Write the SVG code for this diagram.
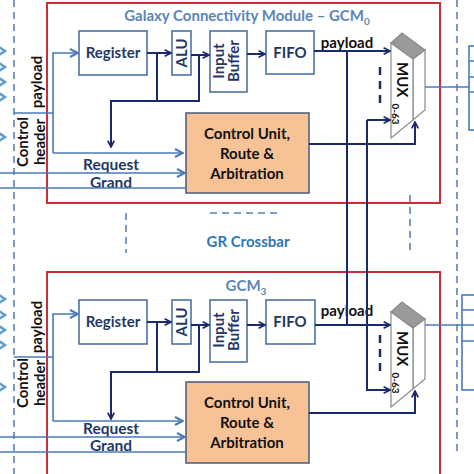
<svg xmlns="http://www.w3.org/2000/svg" width="474" height="474" viewBox="0 0 474 474">
<defs>
<style>
.red{fill:none;stroke:#c5303a;stroke-width:2}
.blk{fill:#fff;stroke:#41699c;stroke-width:1.5}
.cu{fill:#f8c297;stroke:#4a5a7a;stroke-width:1.5}
.bt{font-family:Lato,"Open Sans",sans-serif;font-weight:bold;font-size:15px;fill:#1f3864}
.rq{font-family:Lato,"Open Sans",sans-serif;font-weight:bold;font-size:15.5px;fill:#1f3864}
.kt{font-family:Lato,"Open Sans",sans-serif;font-weight:bold;font-size:15px;fill:#111}
.tt{font-family:Lato,"Open Sans",sans-serif;font-weight:bold;font-size:15px;fill:#5b86b8}
.nv{fill:none;stroke:#1a2a6c;stroke-width:2}
.sb{fill:none;stroke:#4a7ab8;stroke-width:1.6}
.dash{fill:none;stroke:#5a82b4;stroke-width:1.6;stroke-dasharray:7,5}
.ndash{fill:none;stroke:#1a2a6c;stroke-width:2.5;stroke-dasharray:8,6}
.chev{fill:none;stroke:#5b9bd5;stroke-width:2.5}
.mux{stroke:#8a8a8a;stroke-width:1.2}
</style>
<marker id="an" viewBox="0 0 10 10" refX="9" refY="5" markerWidth="8" markerHeight="8" orient="auto" markerUnits="userSpaceOnUse">
<path d="M1,1 L9,5 L1,9" fill="none" stroke="#1a2a6c" stroke-width="2.2"/>
</marker>
<marker id="ab" viewBox="0 0 10 10" refX="9" refY="5" markerWidth="10" markerHeight="10" orient="auto" markerUnits="userSpaceOnUse">
<path d="M1,1 L9,5 L1,9" fill="none" stroke="#4a7ab8" stroke-width="2"/>
</marker>
</defs>
<rect width="474" height="474" fill="#fff"/>

<g id="guides">
<path class="dash" d="M14,0 V474"/>
<path class="dash" d="M457,0 V453"/>
<path class="dash" d="M210,213 H278"/>
<path class="dash" d="M126,213 V253"/>
<path class="dash" d="M410,195 V254"/>
<path class="chev" d="M-1,47 L5,51 L-1,55 M-1,63 L5,67 L-1,71 M-1,78 L5,82 L-1,86 M-1,93 L5,97 L-1,101 M-1,133 L5,137 L-1,141"/>
<path class="chev" d="M-1,295 L5,299 L-1,303 M-1,311 L5,315 L-1,319 M-1,326 L5,330 L-1,334 M-1,341 L5,345 L-1,349 M-1,383 L5,387 L-1,391"/>
</g>

<g id="gcm0">
<rect class="red" x="47" y="3" width="393" height="200"/>
<text class="tt" x="247" y="21" text-anchor="middle">Galaxy Connectivity Module – GCM<tspan font-size="10" dy="4">0</tspan></text>
</g>
<g id="gcm3">
<rect class="red" x="47" y="272" width="393" height="210"/>
<text class="tt" x="246" y="291" text-anchor="middle">GCM<tspan font-size="10" dy="4">3</tspan></text>
</g>
<g id="crossbar">
<text x="248" y="247" text-anchor="middle" style="font-family:Lato,'Open Sans',sans-serif;font-weight:bold;font-size:15px;fill:#2e75b6">GR Crossbar</text>
</g>

<g id="register0"><rect class="blk" x="79" y="31" width="68" height="44"/><text class="bt" x="113" y="58" text-anchor="middle">Register</text></g>
<g id="alu0"><rect class="blk" x="172" y="31" width="19" height="44"/><text class="bt" transform="translate(187,53) rotate(-90)" text-anchor="middle">ALU</text></g>
<g id="inbuf0"><rect class="blk" x="210" y="31" width="37" height="61"/><text class="bt" transform="translate(224,61) rotate(-90)" text-anchor="middle">Input</text><text class="bt" transform="translate(239,61) rotate(-90)" text-anchor="middle">Buffer</text></g>
<g id="fifo0"><rect class="blk" x="266" y="31" width="48" height="43"/><text class="bt" x="290" y="58" text-anchor="middle">FIFO</text></g>
<g id="cu0"><rect class="cu" x="186" y="113" width="123" height="80"/><text class="kt" x="247" y="139" text-anchor="middle">Control Unit,</text><text class="kt" x="247" y="159" text-anchor="middle">Route &amp;</text><text class="kt" x="247" y="179" text-anchor="middle">Arbitration</text></g>
<g id="mux0">
<path class="mux" fill="#9a9a9a" d="M391,43 L402,33 L425,50 L413,59 Z"/>
<path class="mux" fill="#fff" d="M413,59 L425,50 L425,110 L413,120 Z"/>
<path class="mux" fill="#fff" d="M391,43 L413,59 L413,120 L391,138 Z"/>
<text class="kt" transform="translate(397,62) rotate(90)">MUX<tspan font-size="10" dx="6" dy="5">0-63</tspan></text>
</g>
<g id="rbox0" class="sb"><rect x="469" y="46" width="12" height="84"/><path d="M469,61 H474 M469,77 H474 M469,92 H474"/></g>

<g id="register3"><rect class="blk" x="79" y="300" width="68" height="44"/><text class="bt" x="113" y="327" text-anchor="middle">Register</text></g>
<g id="alu3"><rect class="blk" x="172" y="300" width="19" height="44"/><text class="bt" transform="translate(187,322) rotate(-90)" text-anchor="middle">ALU</text></g>
<g id="inbuf3"><rect class="blk" x="210" y="300" width="37" height="62"/><text class="bt" transform="translate(224,330) rotate(-90)" text-anchor="middle">Input</text><text class="bt" transform="translate(239,330) rotate(-90)" text-anchor="middle">Buffer</text></g>
<g id="fifo3"><rect class="blk" x="266" y="300" width="49" height="44"/><text class="bt" x="290" y="327" text-anchor="middle">FIFO</text></g>
<g id="cu3"><rect class="cu" x="186" y="382" width="123" height="81"/><text class="kt" x="247" y="408" text-anchor="middle">Control Unit,</text><text class="kt" x="247" y="428" text-anchor="middle">Route &amp;</text><text class="kt" x="247" y="448" text-anchor="middle">Arbitration</text></g>
<g id="mux3">
<path class="mux" fill="#9a9a9a" d="M391,312 L402,302 L425,319 L413,328 Z"/>
<path class="mux" fill="#fff" d="M413,328 L425,319 L425,379 L413,389 Z"/>
<path class="mux" fill="#fff" d="M391,312 L413,328 L413,389 L391,407 Z"/>
<text class="kt" transform="translate(397,331) rotate(90)">MUX<tspan font-size="10" dx="6" dy="5">0-63</tspan></text>
</g>
<g id="rbox3" class="sb"><rect x="462" y="295" width="16" height="95"/><path d="M462,310 H474 M462,341 H474"/></g>

<g id="labels">
<text class="kt" transform="translate(42,82) rotate(-90)" text-anchor="middle">payload</text>
<text class="kt" transform="translate(28,142) rotate(-90)" text-anchor="middle">Control</text>
<text class="kt" transform="translate(45,142) rotate(-90)" text-anchor="middle">header</text>
<text class="rq" x="111" y="170" text-anchor="middle">Request</text>
<text class="rq" x="111" y="188" text-anchor="middle">Grand</text>
<text class="kt" x="347" y="48" text-anchor="middle">payload</text>
<text class="kt" transform="translate(42,327) rotate(-90)" text-anchor="middle">payload</text>
<text class="kt" transform="translate(28,383) rotate(-90)" text-anchor="middle">Control</text>
<text class="kt" transform="translate(45,383) rotate(-90)" text-anchor="middle">header</text>
<text class="rq" x="111" y="434" text-anchor="middle">Request</text>
<text class="rq" x="111" y="451" text-anchor="middle">Grand</text>
<text class="kt" x="347" y="316" text-anchor="middle">payload</text>
</g>

<g id="connectors">
<path class="nv" d="M147,53 H171" marker-end="url(#an)"/>
<path class="nv" d="M157,53 V101"/>
<path class="nv" d="M191,55 H209" marker-end="url(#an)"/>
<path class="nv" d="M199,55 V101 H111 V147" marker-end="url(#an)"/>
<path class="nv" d="M247,54 H265" marker-end="url(#an)"/>
<path class="nv" d="M314,51 H390" marker-end="url(#an)"/>
<path class="nv" d="M347,51 V325"/>
<path class="nv" d="M367,120 H390" marker-end="url(#an)"/>
<path class="nv" d="M367,120 V390 H390" marker-end="url(#an)"/>
<path class="nv" d="M309,144 H415 V122" marker-end="url(#an)"/>
<path class="ndash" d="M380,67 V103"/>
<path class="sb" d="M14,113 H53"/>
<path class="sb" d="M53,153 V53 H78" marker-end="url(#ab)"/>
<path class="sb" d="M53,153 H183" marker-end="url(#ab)"/>
<path class="sb" d="M0,173 H185" marker-end="url(#ab)"/>
<path class="sb" d="M0,188 H186"/>
<path class="sb" d="M425,87 H469"/>
<path class="nv" d="M147,322 H171" marker-end="url(#an)"/>
<path class="nv" d="M157,322 V372"/>
<path class="nv" d="M191,325 H209" marker-end="url(#an)"/>
<path class="nv" d="M199,325 V372 H111 V419" marker-end="url(#an)"/>
<path class="nv" d="M247,325 H265" marker-end="url(#an)"/>
<path class="nv" d="M315,325 H390" marker-end="url(#an)"/>
<path class="nv" d="M309,413 H415 V391" marker-end="url(#an)"/>
<path class="ndash" d="M380,335 V373"/>
<path class="sb" d="M14,357 H53"/>
<path class="sb" d="M53,421 V314 H78" marker-end="url(#ab)"/>
<path class="sb" d="M53,421 H183" marker-end="url(#ab)"/>
<path class="sb" d="M0,437 H185" marker-end="url(#ab)"/>
<path class="sb" d="M0,452 H186"/>
<path class="sb" d="M425,325 H474"/>
</g>
</svg>
